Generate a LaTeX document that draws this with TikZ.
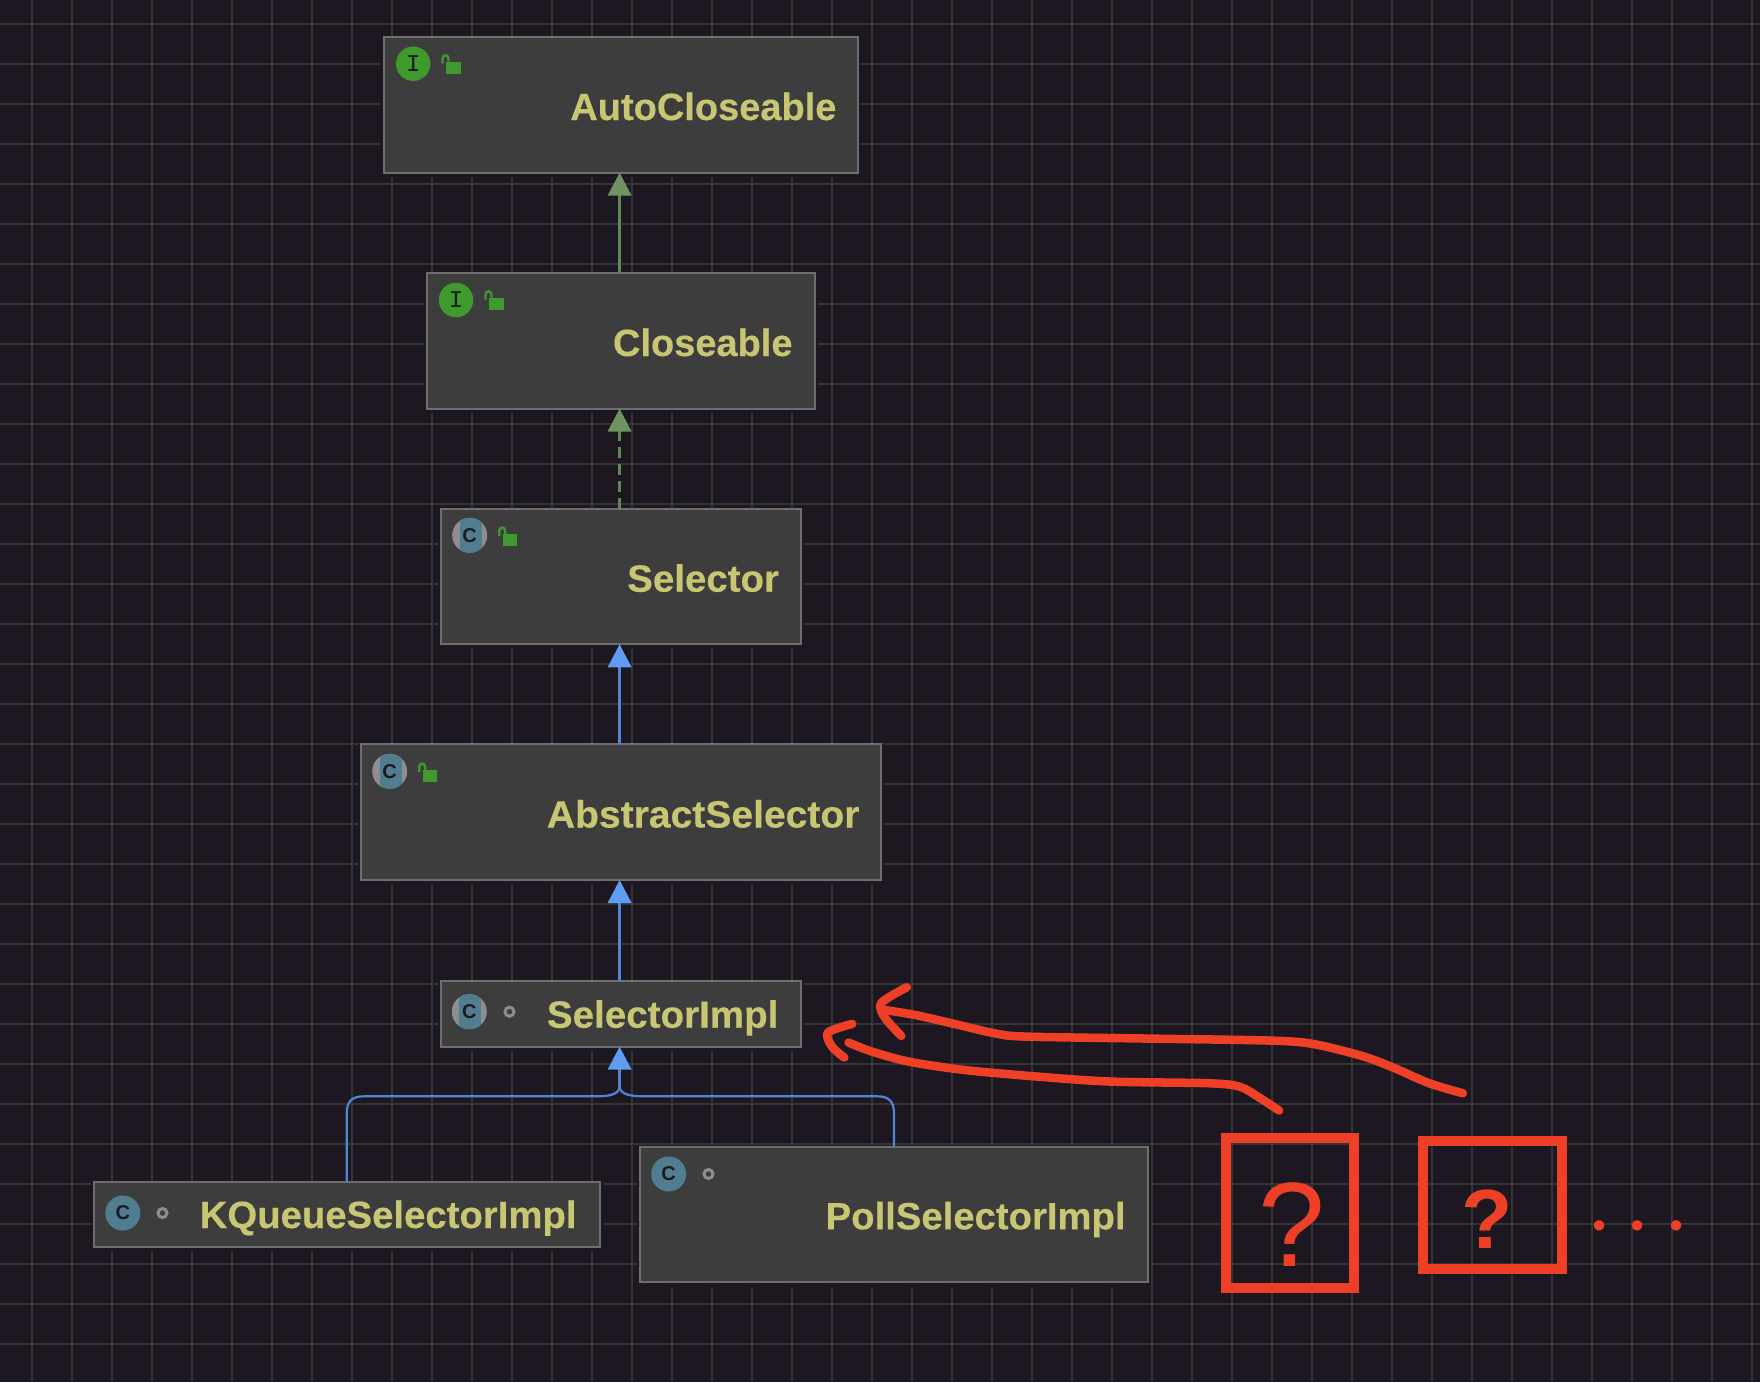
\documentclass[tikz,border=0pt]{standalone}
\usepackage{fontspec}
\setmainfont{Liberation Sans}
\newfontfamily\lblfont[BoldFeatures={FakeBold=0.35}]{Liberation Sans}
\newfontfamily\monoicon{Liberation Mono}
\newfontfamily\dotfont{Lato}
\usetikzlibrary{arrows.meta,backgrounds,shapes.geometric}
\definecolor{bgc}{HTML}{1D1722}
\definecolor{gridc}{HTML}{353535}
\definecolor{boxfill}{HTML}{3D3D3D}
\definecolor{boxline}{HTML}{6E6E6E}
\definecolor{labelc}{HTML}{C8C673}
\definecolor{igreen}{HTML}{3F9A2E}
\definecolor{cblue}{HTML}{507D90}
\definecolor{cgrey}{HTML}{8F8C92}
\definecolor{inkc}{HTML}{1C1A1E}
\definecolor{arrgreen}{HTML}{6F9461}
\definecolor{lingreen}{HTML}{5F8A52}
\definecolor{arrblue}{HTML}{5F9CF2}
\definecolor{linblue}{HTML}{4F86D8}
\definecolor{redink}{HTML}{EE4026}
\tikzset{
  x=1pt,y=-1pt,
  umlbox/.style={draw=boxline,line width=2pt,fill=boxfill,rectangle,inner sep=0pt,outer sep=0pt,anchor=north west},
  lbl/.style={anchor=base east,inner sep=0pt,outer sep=0pt,text=labelc,font=\fontsize{38}{40}\selectfont\lblfont\bfseries},
  iicon/.style={circle,inner sep=0pt,outer sep=0pt,minimum size=34.5pt,fill=igreen,text=inkc,font=\fontsize{24}{24}\selectfont\monoicon},
  cicon/.style={circle,inner sep=0pt,outer sep=0pt,minimum size=35pt,fill=cblue,text=inkc,font=\fontsize{20}{20}\selectfont\bfseries},
  cglyph/.style={inner sep=0pt,outer sep=0pt,text=inkc,font=\fontsize{20}{20}\selectfont\bfseries},
  aclass/.pic={
    \fill[cgrey] (0,0) circle[radius=17.5];
    \begin{scope}
      \clip (0,0) circle[radius=17.5];
      \fill[cblue] (-10,-20) rectangle (12,20);
    \end{scope}
  },
  ring/.style={circle,inner sep=0pt,minimum size=9pt,draw=cgrey,line width=3pt,fill=boxfill},
  lockicon/.pic={
    \fill[igreen] (0,0) rectangle (14.7,12);
    \draw[igreen,line width=2.4pt] (-3.5,2) -- (-3.5,-3) .. controls (-3.5,-7.5) and (2.5,-7.5) .. (2.5,-3) -- (2.5,0);
  },
  gline/.style={draw=lingreen,line width=2.4pt,-{Triangle[width=23.5pt,length=23pt,fill=arrgreen,color=arrgreen]}},
  bline/.style={draw=linblue,line width=2.4pt,-{Triangle[width=23.5pt,length=23pt,fill=arrblue,color=arrblue]}},
  merge/.style={draw=linblue,line width=2.2pt},
  stroke/.style={draw=redink,line cap=round,line join=round,line width=8.5pt},
  redbox/.style={draw=redink,line width=10pt,rectangle,inner sep=0pt,outer sep=0pt,anchor=north west},
  qmark/.style={anchor=base,inner sep=0pt,text=redink},
}
\begin{document}
\begin{tikzpicture}
\useasboundingbox (0,0) rectangle (1760,1382);

% boxes
\node[umlbox,minimum width=474pt,minimum height=136pt] (auto) at (384,36.7) {};
\node[umlbox,minimum width=388.2pt,minimum height=136pt] (close) at (426.8,272.7) {};
\node[umlbox,minimum width=360pt,minimum height=135.7pt] (sel) at (440.7,508.7) {};
\node[umlbox,minimum width=520pt,minimum height=135.7pt] (abs) at (360.5,744.3) {};
\node[umlbox,minimum width=359.5pt,minimum height=66pt] (impl) at (441,980.7) {};
\node[umlbox,minimum width=506pt,minimum height=65.3pt] (kq) at (93.7,1181.7) {};
\node[umlbox,minimum width=508pt,minimum height=135.6pt] (poll) at (640,1146.7) {};

\begin{pgfonlayer}{background}
  \fill[bgc] (0,0) rectangle (1760,1382);
  \foreach \gx in {32,72,...,1752} \draw[gridc,line width=2pt] (\gx,0) -- (\gx,1382);
  \foreach \gy in {24,64,...,1384} \draw[gridc,line width=2pt] (0,\gy) -- (1760,\gy);
  \foreach \b in {auto,close,sel,abs,impl,kq,poll}
    \fill[bgc] ([xshift=-3pt]\b.north west) rectangle ([xshift=3pt,yshift=-4.5pt]\b.south east);
\end{pgfonlayer}

% labels
\node[lbl] (tauto) at (836.4,120) {AutoCloseable};
\node[lbl] (tclose) at (792.5,356) {Closeable};
\node[lbl] (tsel) at (779,591.7) {\addfontfeature{FakeStretch=1.012}Selector};
\node[lbl] (tabs) at (859.5,827.5) {\addfontfeature{FakeStretch=1.028}AbstractSelector};
\node[lbl] (timpl) at (778.4,1027.7) {\addfontfeature{FakeStretch=1.015}SelectorImpl};
\node[lbl] (tkq) at (576.5,1228) {\addfontfeature{FakeStretch=1.008}KQueueSelectorImpl};
\node[lbl] (tpoll) at (1125.5,1229.3) {\addfontfeature{FakeStretch=1.007}PollSelectorImpl};

% icons
\node[iicon] (iauto) at (413.2,63.7) {I};
\pic at (446,61.7) {lockicon};
\node[iicon] (iclose) at (456,300) {I};
\pic at (489,297.7) {lockicon};
\pic at (469.7,535.3) {aclass};
\node[cglyph] (isel) at (469.7,535.3) {C};
\pic at (502.7,534) {lockicon};
\pic at (389.7,771.3) {aclass};
\node[cglyph] (iabs) at (389.7,771.3) {C};
\pic at (422.7,770) {lockicon};
\pic at (469.3,1011.7) {aclass};
\node[cglyph] (iimpl) at (469.3,1011.7) {C};
\node[ring] (rimpl) at (509.5,1011.7) {};
\node[cicon] (ikq) at (122.8,1213) {C};
\node[ring] (rkq) at (162.5,1213) {};
\node[cicon] (ipoll) at (668.7,1174) {C};
\node[ring] (rpoll) at (708.5,1174) {};

% connectors
\coordinate (spine) at (619.6,0);
\draw[gline] (spine |- close.north) -- (spine |- auto.south);
\draw[gline,dash pattern=on 11pt off 6pt] (spine |- sel.north) -- (spine |- close.south);
\draw[bline] (spine |- abs.north) -- (spine |- sel.south);
\draw[bline] (spine |- impl.north) -- (spine |- abs.south);
\coordinate (junc) at (619.6,1086);
\draw[bline] (junc) -- (junc |- impl.south);
\draw[merge] (kq.north) -- (kq.north |- 0,1114) .. controls (kq.north |- 0,1101) and (352,1096.3) .. (364,1096.3) -- (596,1096.3) .. controls (608,1096.3) and (619.6,1095) .. (junc);
\draw[merge] (poll.north) -- (poll.north |- 0,1114) .. controls (poll.north |- 0,1101) and (889,1096.3) .. (877,1096.3) -- (644,1096.3) .. controls (632,1096.3) and (619.6,1095) .. (junc);

% hand-drawn annotations
\node[redbox,minimum width=128.3pt,minimum height=150pt] (qa) at (1226,1138) {};
\node[redbox,minimum width=139.8pt,minimum height=128pt] (qb) at (1422.5,1141) {};
\node[qmark,font=\fontsize{120}{120}\selectfont] (qta) at (1292,1266) {?};
\node[qmark,font=\fontsize{84}{84}\selectfont\bfseries] (qtb) at (1487,1248) {?};
\node[anchor=base,inner sep=0pt,text=redink,font=\fontsize{68}{68}\selectfont\dotfont\bfseries] (ell) at (1638,1230) {. . .};

\begin{scope}[x=0.6124pt,y=-0.3333pt,shift={(1273.7,2880)}]
  \draw[stroke] plot[smooth,tension=0.5] coordinates {(1115,400) (1060,370) (1000,322) (950,288) (870,252) (800,242) (600,236) (400,230) (350,220) (280,190) (220,165) (170,150)};
  \draw[stroke] plot[smooth,tension=0.5] coordinates {(207,82) (165,130) (172,175) (198,228)};
  \draw[stroke] plot[smooth,tension=0.5] coordinates {(815,452) (780,410) (750,380) (700,370) (540,365) (420,350) (300,330) (210,305) (150,275) (112,248)};
  \draw[stroke] plot[smooth,tension=0.5] coordinates {(118,192) (78,218) (85,260) (105,293)};
\end{scope}
\end{tikzpicture}
\end{document}
